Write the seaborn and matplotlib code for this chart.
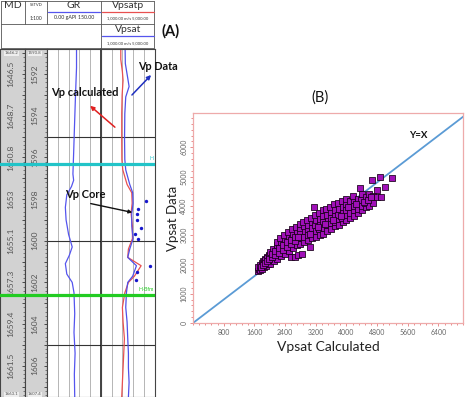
import matplotlib
matplotlib.use("Agg")
import matplotlib.pyplot as plt
import seaborn as sns
import numpy as np
import pandas as pd
from matplotlib.ticker import MultipleLocator, FixedLocator, NullFormatter

sns.set_theme(style="white")
plt.rcParams['font.family'] = ['Lato', 'DejaVu Sans']

# ---------------- Panel A data (well log) ----------------
tvd_ticks = [1592, 1594, 1596, 1598, 1600, 1602, 1604, 1606]
md_labels = ['1646.5', '1648.7', '1650.8', '1653', '1655.1', '1657.3', '1659.4', '1661.5']
sstvd_labels = ['1592', '1594', '1596', '1598', '1600', '1602', '1604', '1606']
top_labels = ['1646.2', '1590.8']
bottom_labels = ['1663.1', '1607.4']
grid_depths = [1595, 1600, 1605]
gr_grid = [30, 60, 90, 120]
vp_grid = [1800, 2600, 3400, 4200]

gr_depth = [1590.7, 1591.7, 1593.1, 1594.7, 1595.8, 1596.8, 1597.1, 1597.4, 1597.8, 1598.4,
            1599.0, 1599.7, 1600.3, 1600.7, 1601.1, 1601.6, 1602.0, 1602.5, 1603.5, 1604.4,
            1605.4, 1606.4, 1607.5]
gr_value = [82, 82, 79, 76, 74, 72, 74, 68, 55, 51,
            53, 60, 70, 62, 51, 55, 70, 75, 77, 75,
            78, 76, 77]

vpsatp_depth = [1590.7, 1591.3, 1591.9, 1592.3, 1593.0, 1593.9, 1595.1, 1596.1, 1596.6, 1597.3,
                1597.7, 1598.2, 1598.7, 1599.3, 1599.9, 1600.4, 1600.8, 1601.2, 1601.7, 1602.0,
                1602.5, 1603.2, 1603.9, 1604.7, 1605.4, 1606.1, 1606.8, 1607.5]
vpsatp_value = [2480, 2480, 2600, 2650, 2580, 2550, 2550, 2560, 2630, 2950,
                3300, 3330, 3250, 3350, 3350, 3050, 3000, 4000, 3500, 3050,
                2780, 2600, 2650, 2750, 2700, 2650, 2600, 2550]

vpsat_depth = [1590.7, 1591.5, 1592.2, 1592.6, 1593.1, 1593.9, 1595.1, 1596.1, 1596.6, 1597.3,
               1597.7, 1598.2, 1598.7, 1599.3, 1599.9, 1600.4, 1600.8, 1601.2, 1601.7, 1602.0,
               1602.5, 1603.2, 1603.9, 1604.7, 1605.4, 1606.1, 1606.8, 1607.5]
vpsat_value = [2800, 2820, 3000, 3100, 2850, 2780, 2760, 2780, 2850, 3150,
               3370, 3400, 3300, 3300, 3400, 3150, 3000, 3650, 3370, 3000,
               2900, 2850, 2950, 3000, 3050, 3050, 3100, 3050]

core_depth = [1598.1, 1598.5, 1598.7, 1599.0, 1599.4, 1599.7, 1599.9, 1601.2, 1601.5, 1601.9]
core_value = [4330, 3740, 3670, 3670, 3960, 3520, 3740, 4630, 3670, 3590]

marker_names = ['H', 'H-Bfm']
marker_depths = [1596.3, 1602.6]
marker_colors = ['#22c4c8', '#22cc22']

# ---------------- Panel B data (crossplot) ----------------
vpsat_calc = [
    1690, 1710, 1700,
    1750, 1760, 1740,
    1800, 1810, 1790, 1820,
    1850, 1860, 1840, 1870,
    1900, 1910, 1890, 1920,
    1950, 1960, 1940, 1970,
    2000, 2010, 1990, 2020,
    2100, 2090, 2110, 2080,
    2200, 2210, 2190, 2200, 2180,
    2300, 2310, 2290, 2300, 2280,
    2400, 2410, 2390, 2410, 2380,
    2500, 2490, 2510, 2500, 2480,
    2600, 2610, 2590, 2600, 2580,
    2700, 2690, 2710, 2700, 2680,
    2800, 2810, 2790, 2800, 2780,
    2900, 2890, 2910, 2900, 2880,
    3000, 3010, 2990, 3000, 2980,
    3100, 3090, 3110, 3100, 3080,
    3200, 3210, 3190, 3200, 3180, 3150,
    3300, 3290, 3310, 3300, 3280,
    3400, 3410, 3390, 3400, 3380,
    3500, 3490, 3510, 3500, 3480,
    3600, 3610, 3590, 3600, 3580,
    3700, 3690, 3710, 3700, 3680,
    3800, 3810, 3790, 3800, 3780,
    3900, 3890, 3910, 3900, 3880,
    4000, 4010, 3990, 4000, 3980,
    4100, 4090, 4110, 4100,
    4200, 4210, 4190, 4200, 4180,
    4300, 4290, 4310, 4300,
    4400, 4410, 4390, 4400, 4360,
    4500, 4490, 4510,
    4600, 4610, 4590,
    4700, 4690, 4670,
    4800, 4810, 4880,
    4900,
    5010,
    5190,
    2550, 2650, 2750, 2850, 3050,
    1780, 1830, 1880, 1930, 1980,
    2050, 2050, 2150, 2150, 2250,
    2250, 2350, 2350, 2450, 2450,
    2550, 2550, 2650, 2650, 2750,
    3050, 3250, 3450, 3650, 3850,
    4050, 4250, 4450, 4550, 4650,
]
vpsat_data = [
    1790, 1850, 1910,
    1820, 1900, 1985,
    1860, 1950, 2040, 2110,
    1900, 2000, 2090, 2190,
    1950, 2060, 2150, 2260,
    2000, 2110, 2210, 2330,
    2030, 2150, 2280, 2410,
    2110, 2250, 2390, 2540,
    2200, 2350, 2500, 2650, 2760,
    2290, 2450, 2600, 2750, 2890,
    2360, 2540, 2700, 2860, 3010,
    2450, 2650, 2800, 2950, 3100,
    2550, 2750, 2900, 3050, 3200,
    2650, 2850, 3000, 3150, 3290,
    2700, 2900, 3080, 3250, 3390,
    2780, 2950, 3150, 3300, 3450,
    2850, 3000, 3200, 3350, 3500,
    2900, 3100, 3250, 3450, 3600,
    2950, 3150, 3350, 3500, 3700, 3950,
    3000, 3200, 3400, 3550, 3750,
    3050, 3250, 3450, 3650, 3850,
    3150, 3350, 3550, 3700, 3900,
    3200, 3400, 3600, 3800, 3950,
    3300, 3450, 3650, 3850, 4050,
    3350, 3550, 3700, 3900, 4100,
    3450, 3600, 3800, 3950, 4150,
    3500, 3700, 3850, 4050, 4250,
    3600, 3750, 3950, 4150,
    3650, 3850, 4000, 4200, 4350,
    3750, 3900, 4100, 4250,
    3850, 4000, 4200, 4400, 4600,
    3950, 4100, 4300,
    4000, 4250, 4400,
    4100, 4350, 4880,
    4300, 4550, 4980,
    4300,
    4640,
    4950,
    2250, 2270, 2320, 2350, 2600,
    1900, 1980, 2050, 2120, 2200,
    2250, 2350, 2320, 2450, 2400,
    2550, 2500, 2650, 2600, 2750,
    2700, 2850, 2800, 2950, 2950,
    3050, 3280, 3380, 3500, 3650,
    3950, 4080, 4120, 4200, 4300,
]
identity_x = [0, 7100]
identity_y = [0, 7100]
b_xticks = [800, 1600, 2400, 3200, 4000, 4800, 5600, 6400]
b_yticks = [0, 1000, 2000, 3000, 4000, 5000, 6000]

# ---------------- Figure ----------------
W, H = 474, 397
fig = plt.figure(figsize=(W / 100, H / 100), dpi=100)
fig.patch.set_facecolor('white')


def px_axes(x0, y0, x1, y1):
    return fig.add_axes([x0 / W, 1 - y1 / H, (x1 - x0) / W, (y1 - y0) / H])


TOP, BOT = 49, 397
DMIN, DMAX = 1590.8, 1607.5

ax_md = px_axes(0, TOP, 25, BOT)
ax_ss = px_axes(25, TOP, 47, BOT)
ax_gr = px_axes(47, TOP, 101, BOT)
ax_vp = px_axes(101, TOP, 154.5, BOT)

for ax in (ax_md, ax_ss, ax_gr, ax_vp):
    ax.set_ylim(DMAX, DMIN)
    ax.set_xticks([])
    for s in ax.spines.values():
        s.set_color('#444444')
        s.set_linewidth(0.8)

# depth tracks
for ax, labels in ((ax_md, md_labels), (ax_ss, sstvd_labels)):
    ax.set_facecolor('#d2d2d2')
    ax.set_xlim(0, 1)
    ax.yaxis.set_ticks_position('right')
    ax.yaxis.set_major_locator(MultipleLocator(1))
    ax.yaxis.set_minor_locator(MultipleLocator(0.2))
    ax.yaxis.set_major_formatter(NullFormatter())
    ax.tick_params(axis='y', which='major', direction='inout', length=5, width=0.6,
                   color='#333333', right=True, left=False)
    ax.tick_params(axis='y', which='minor', direction='inout', length=2.5, width=0.4,
                   color='#333333', right=True, left=False)
    ax.spines['right'].set_color('#222222')
    for d, lab in zip(tvd_ticks, labels):
        ax.text(0.45, d, lab, transform=ax.get_yaxis_transform(), rotation=90,
                ha='center', va='center', fontsize=6, color='#555555')
for ax, t, b in ((ax_md, top_labels[0], bottom_labels[0]), (ax_ss, top_labels[1], bottom_labels[1])):
    ax.text(0.45, 0.993, t, transform=ax.transAxes, ha='center', va='top', fontsize=3.2,
            color='#555555', bbox=dict(facecolor='#eeeeee', edgecolor='none', pad=0.3))
    ax.text(0.45, 0.002, b, transform=ax.transAxes, ha='center', va='bottom', fontsize=3.2,
            color='#555555', bbox=dict(facecolor='#eeeeee', edgecolor='none', pad=0.3))

# GR track
ax_gr.set_xlim(0, 150)
ax_gr.set_facecolor('white')
for g in gr_grid:
    ax_gr.axvline(g, color='#b5b5b5', lw=0.7, zorder=0)
for d in grid_depths:
    ax_gr.axhline(d, color='#333333', lw=0.8, zorder=0)
sns.lineplot(x=gr_value, y=gr_depth, ax=ax_gr, orient='y', estimator=None,
             color='#5555ee', lw=0.9)
ax_gr.set_ylabel('')
ax_gr.set_yticks([])
ax_gr.spines['right'].set_color('#111111')
ax_gr.spines['right'].set_linewidth(1.1)

# Vp track
ax_vp.set_xlim(1000, 5000)
ax_vp.set_facecolor('white')
for g in vp_grid:
    ax_vp.axvline(g, color='#b5b5b5', lw=0.7, zorder=0)
for d in grid_depths:
    ax_vp.axhline(d, color='#333333', lw=0.8, zorder=0)
sns.lineplot(x=vpsatp_value, y=vpsatp_depth, ax=ax_vp, orient='y', estimator=None,
             color='#e85050', lw=0.9)
sns.lineplot(x=vpsat_value, y=vpsat_depth, ax=ax_vp, orient='y', estimator=None,
             color='#5050e8', lw=0.9)
sns.scatterplot(x=core_value, y=core_depth, ax=ax_vp, color='#1515cc', s=6,
                linewidth=0, zorder=5)
ax_vp.set_ylabel('')
ax_vp.set_yticks([])

# formation markers across all tracks
for ax in (ax_md, ax_ss, ax_gr, ax_vp):
    for d, c in zip(marker_depths, marker_colors):
        ax.axhline(d, color=c, lw=2.3, zorder=6)
for name, d, c in zip(marker_names, marker_depths, marker_colors):
    ax_vp.text(0.98, d - 0.12, name, transform=ax_vp.get_yaxis_transform(), ha='right',
               va='bottom', fontsize=3.8, color=c, zorder=7)

# ---------------- Panel B ----------------
ax_b = px_axes(193, 113, 463, 323)
ax_b.set_facecolor('white')
sns.lineplot(x=identity_x, y=identity_y, ax=ax_b, color='#5b9bd5', lw=1.3, zorder=1)
sns.scatterplot(x=vpsat_calc, y=vpsat_data, ax=ax_b, marker='s', s=15,
                color='#a010b8', edgecolor='#140014', linewidth=0.55, zorder=3)
ax_b.set_xlim(0, 7040)
ax_b.set_ylim(0, 7170)
ax_b.set_xticks(b_xticks)
ax_b.set_yticks(b_yticks)
ax_b.set_xticklabels([str(v) for v in b_xticks], fontsize=5, color='#666666')
ax_b.set_yticklabels([str(v) for v in b_yticks], fontsize=5, color='#666666',
                     rotation=90, va='center')
ax_b.xaxis.set_minor_locator(MultipleLocator(160))
ax_b.yaxis.set_minor_locator(MultipleLocator(200))
ax_b.tick_params(axis='both', which='major', length=2.5, width=0.5, color='#e06060',
                 pad=1.5, bottom=True, left=True)
ax_b.tick_params(axis='both', which='minor', length=1.5, width=0.5, color='#e06060',
                 bottom=True, left=True)
for s in ax_b.spines.values():
    s.set_color('#eeaaaa')
    s.set_linewidth(0.9)
ax_b.set_xlabel('Vpsat Calculated', fontsize=10, color='#222222', labelpad=4)
ax_b.set_ylabel('Vpsat Data', fontsize=9.5, color='#222222', labelpad=1)

# ---------------- overlay: header + annotations ----------------
ov = fig.add_axes([0, 0, 1, 1], zorder=20)
ov.set_xlim(0, W)
ov.set_ylim(H, 0)
ov.axis('off')
ov.patch.set_alpha(0)

lc = '#555555'
hdr_lines = [((0.5, 0.5), (0.5, 48)), ((0.5, 154.5), (0.5, 0.5)), ((154.5, 154.5), (0.5, 48)),
             ((0.5, 154.5), (24, 24)), ((25, 25), (0.5, 24)), ((47, 47), (0.5, 24)),
             ((101, 101), (0.5, 48)), ((0.5, 154.5), (48, 48))]
for xs, ys in hdr_lines:
    ov.plot(xs, ys, color=lc, lw=0.6)
ov.plot((48, 100), (12, 12), color='#5555ee', lw=0.9)
ov.plot((102, 154), (12, 12), color='#e85050', lw=0.9)
ov.plot((102, 154), (36, 36), color='#5555ee', lw=0.9)

ov.text(12.5, 6, 'MD', ha='center', va='center', fontsize=7.5, color='#333333')
ov.text(36, 5, 'SSTVD', ha='center', va='center', fontsize=3, color='#333333')
ov.text(36, 18, '1:100', ha='center', va='center', fontsize=3.6, color='#333333')
ov.text(74, 6, 'GR', ha='center', va='center', fontsize=7.5, color='#333333')
ov.text(74, 18, '0.00 gAPI 150.00', ha='center', va='center', fontsize=3.8, color='#333333')
ov.text(128, 6, 'Vpsatp', ha='center', va='center', fontsize=7.5, color='#333333')
ov.text(128, 18, '1,000.00 m/s 5,000.00', ha='center', va='center', fontsize=3.0, color='#333333')
ov.text(128, 30, 'Vpsat', ha='center', va='center', fontsize=7.5, color='#333333')
ov.text(128, 43, '1,000.00 m/s 5,000.00', ha='center', va='center', fontsize=3.0, color='#333333')

ov.text(171, 31, '(A)', ha='center', va='center', fontsize=10.5, fontweight='bold', color='#111111')
ov.text(138, 67, 'Vp Data', ha='left', va='center', fontsize=7.8, fontweight='bold', color='#111111')
ov.text(51, 92, 'Vp calculated', ha='left', va='center', fontsize=8, fontweight='bold', color='#111111')
ov.text(65, 195, 'Vp Core', ha='left', va='center', fontsize=8, fontweight='bold', color='#111111')
ov.text(320, 98, '(B)', ha='center', va='center', fontsize=10.5, color='#111111')
ov.text(418, 135, 'Y=X', ha='center', va='center', fontsize=7, fontweight='bold', color='#111111')

ov.annotate('', xy=(88, 104), xytext=(117, 129),
            arrowprops=dict(arrowstyle='-|>', color='#e02020', lw=1.1, mutation_scale=6))
ov.annotate('', xy=(153, 73), xytext=(130, 97),
            arrowprops=dict(arrowstyle='-|>', color='#2030c0', lw=1.1, mutation_scale=6))
ov.annotate('', xy=(135, 213), xytext=(88, 203),
            arrowprops=dict(arrowstyle='-|>', color='#111111', lw=1.0, mutation_scale=5))

fig.savefig('out.png', dpi=100, facecolor='white')
